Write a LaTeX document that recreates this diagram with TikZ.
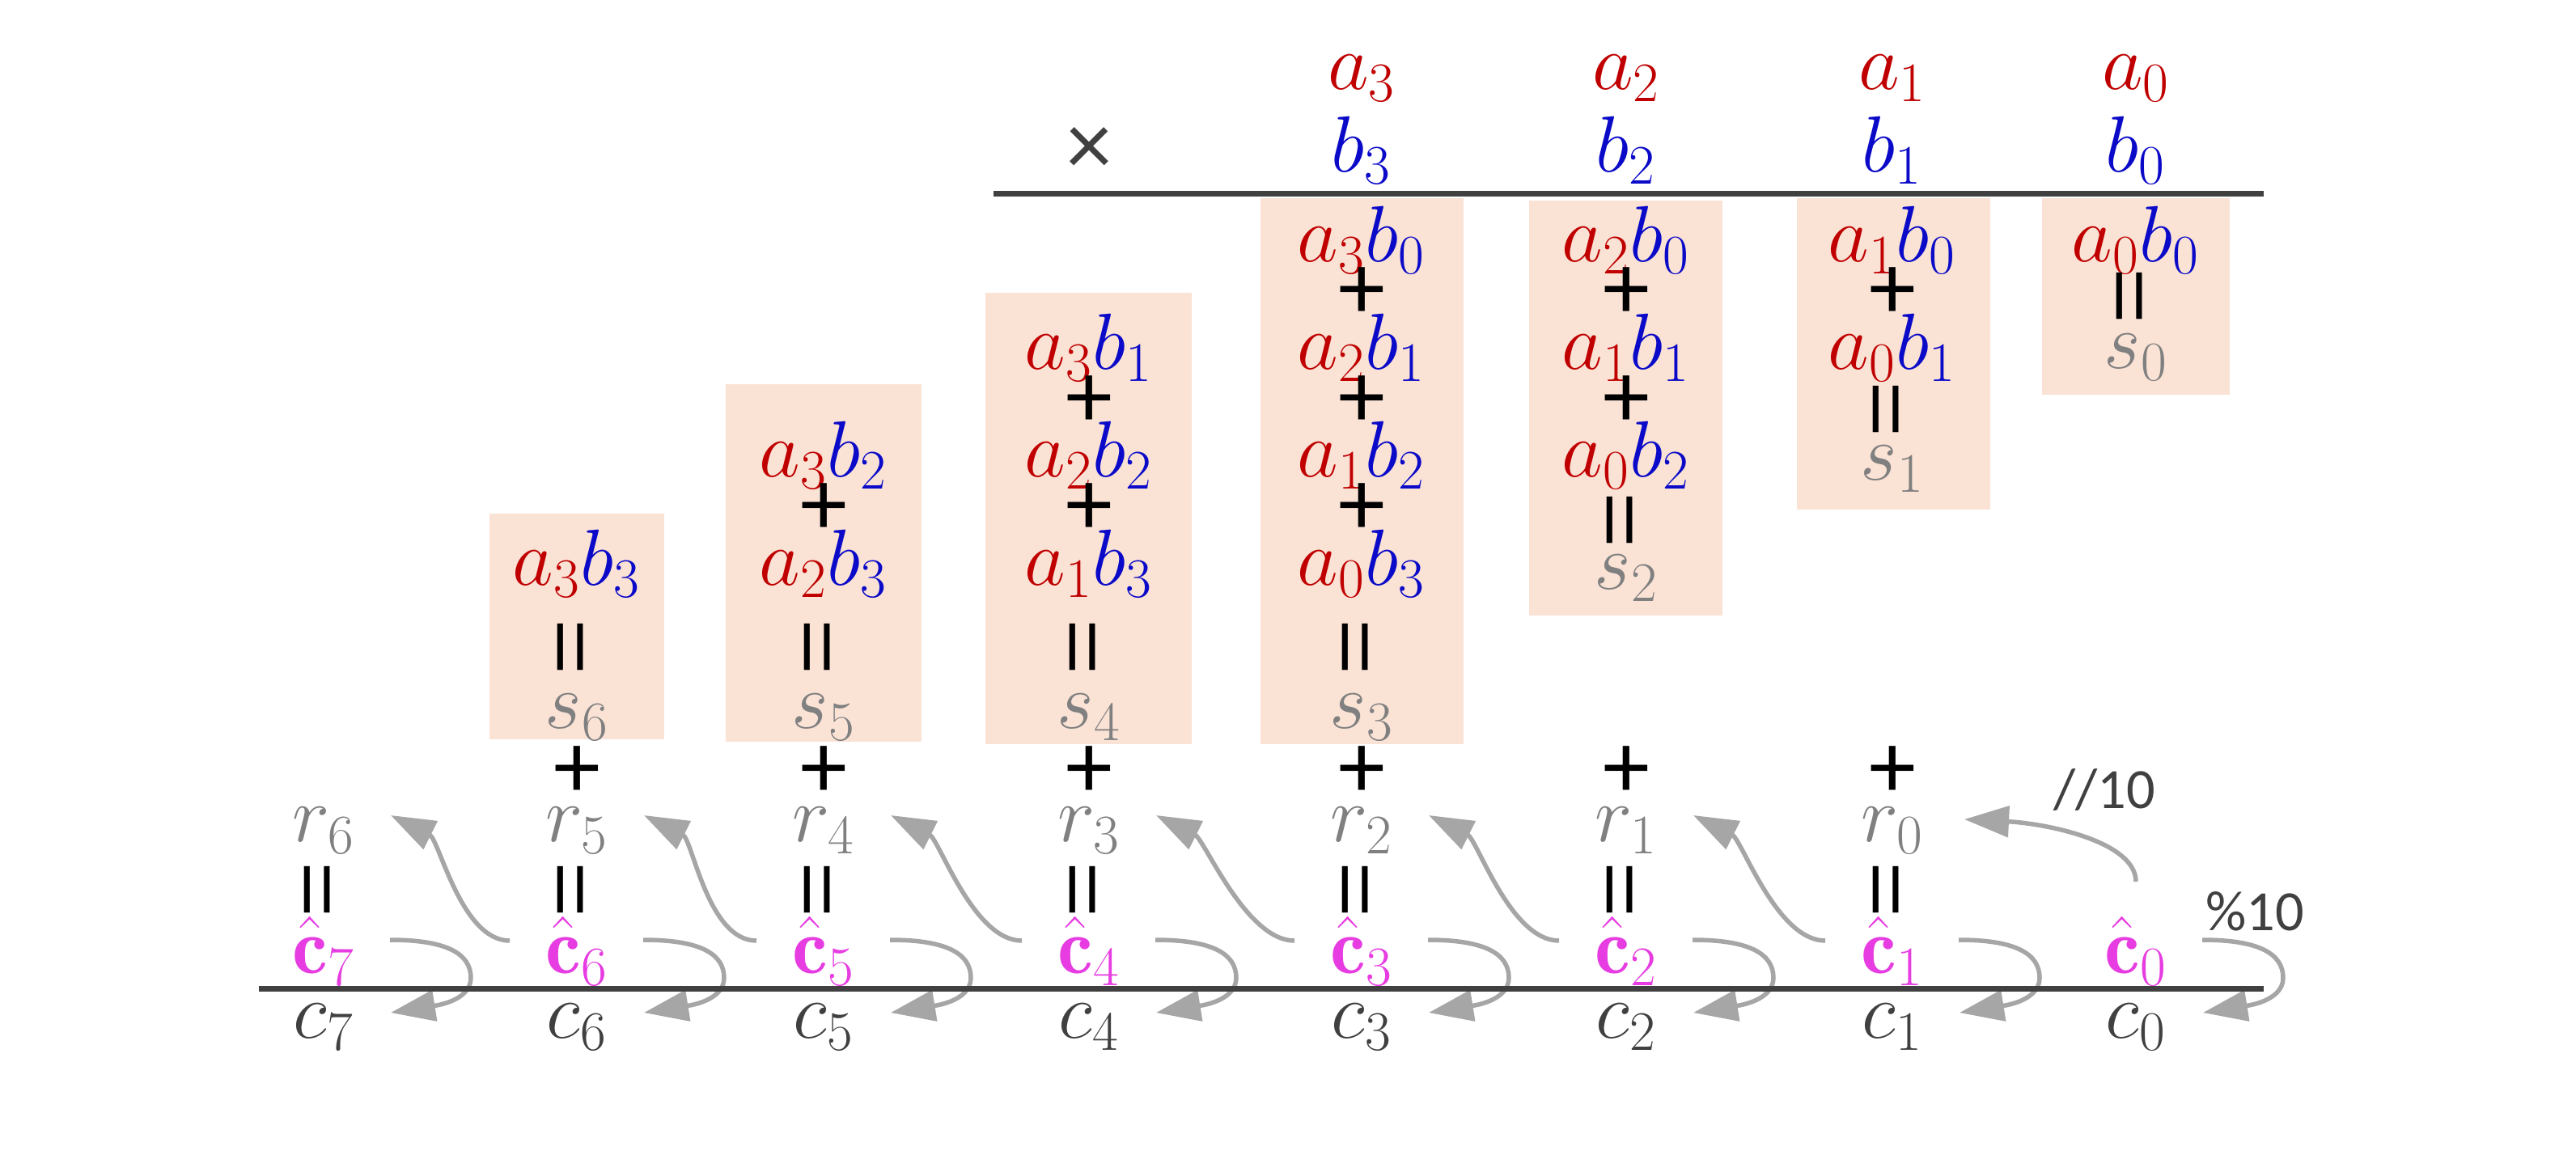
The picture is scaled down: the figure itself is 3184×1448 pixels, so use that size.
\documentclass[tikz,border=0pt]{standalone}
\usepackage{fix-cm}
\usepackage{fontspec}
\newfontfamily\carl{Carlito}
\newfontfamily\lsans{Liberation Sans}
\usetikzlibrary{arrows.meta,calc}
\definecolor{ared}{RGB}{192,0,0}
\definecolor{bblue}{RGB}{10,10,200}
\definecolor{sgray}{RGB}{128,128,128}
\definecolor{chat}{RGB}{230,60,225}
\definecolor{cdark}{RGB}{64,64,64}
\definecolor{boxc}{RGB}{250,226,213}
\definecolor{agray}{RGB}{166,166,166}
\definecolor{rulec}{RGB}{64,64,64}
\newcommand{\prodab}[2]{$\textcolor{ared}{a_{#1}}\textcolor{bblue}{b_{#2}}$}
\tikzset{
  mth/.style={font=\fontsize{28}{32}\selectfont, inner sep=0pt},
  plussym/.style={font=\carl\fontsize{33}{33}\selectfont, inner sep=0pt, text=black},
  eqsym/.style={font=\lsans\fontsize{28}{28}\selectfont, inner sep=0pt, text=black, rotate=90, xscale=1.2},
  lbl/.style={font=\carl\fontsize{20}{24}\selectfont, inner sep=0pt, text=cdark},
  garrow/.style={draw=agray, line width=0.055cm, -{Triangle[length=0.55cm,width=0.38cm]}},
  rulel/.style={draw=rulec, line width=0.07cm},
}
\begin{document}
\begin{tikzpicture}[x=0.01cm,y=-0.01cm]
\useasboundingbox[fill=white] (0,0) rectangle (3184,1448);
% boxes
\fill[boxc] (2524,245) rectangle (2756,488);
\fill[boxc] (2221,245) rectangle (2460,630);
\fill[boxc] (1890,248) rectangle (2129,761);
\fill[boxc] (1558,245) rectangle (1809,920);
\fill[boxc] (1218,362) rectangle (1473,920);
\fill[boxc] (897,475) rectangle (1139,917);
\fill[boxc] (605,635) rectangle (821,914);
% top operands
\foreach \k/\x in {3/1683,2/2010,1/2339,0/2640}{
  \node[mth,text=ared] (a\k) at (\x,97) {$a_{\k}$};
  \node[mth,text=bblue] (b\k) at (\x,186) {$b_{\k}$};
}
\node[font=\carl\fontsize{32}{32}\selectfont, inner sep=0pt, text=rulec] (times) at (1347,187) {×};
% column 0
\node[mth] (p00) at (2640,297) {\prodab00};
\node[eqsym] (e0) at (2640,366) {=};
\node[mth,text=sgray] (s0) at (2640,442) {$s_0$};
% column 1
\node[mth] (p10) at (2339,297) {\prodab10};
\node[plussym] (u1a) at (2339,363) {+};
\node[mth] (p01) at (2339,430) {\prodab01};
\node[eqsym] (e1) at (2339,506) {=};
\node[mth,text=sgray] (s1) at (2339,580) {$s_1$};
% column 2
\node[mth] (p20) at (2010,297) {\prodab20};
\node[plussym] (u2a) at (2010,363) {+};
\node[mth] (p11) at (2010,430) {\prodab11};
\node[plussym] (u2b) at (2010,497) {+};
\node[mth] (p02) at (2010,563) {\prodab02};
\node[eqsym] (e2) at (2010,643) {=};
\node[mth,text=sgray] (s2) at (2010,715) {$s_2$};
% column 3
\node[mth] (p30) at (1683,297) {\prodab30};
\node[plussym] (u3a) at (1683,363) {+};
\node[mth] (p21) at (1683,430) {\prodab21};
\node[plussym] (u3b) at (1683,497) {+};
\node[mth] (p12) at (1683,563) {\prodab12};
\node[plussym] (u3c) at (1683,630) {+};
\node[mth] (p03) at (1683,697) {\prodab03};
\node[eqsym] (e3) at (1683,800) {=};
\node[mth,text=sgray] (s3) at (1683,887) {$s_3$};
% column 4
\node[mth] (p31) at (1346,430) {\prodab31};
\node[plussym] (u4a) at (1346,497) {+};
\node[mth] (p22) at (1346,563) {\prodab22};
\node[plussym] (u4b) at (1346,630) {+};
\node[mth] (p13) at (1346,697) {\prodab13};
\node[eqsym] (e4) at (1346,800) {=};
\node[mth,text=sgray] (s4) at (1346,887) {$s_4$};
% column 5
\node[mth] (p32) at (1018,563) {\prodab32};
\node[plussym] (u5a) at (1018,630) {+};
\node[mth] (p23) at (1018,697) {\prodab23};
\node[eqsym] (e5) at (1018,800) {=};
\node[mth,text=sgray] (s5) at (1018,887) {$s_5$};
% column 6
\node[mth] (p33) at (713,697) {\prodab33};
\node[eqsym] (e6) at (713,800) {=};
\node[mth,text=sgray] (s6) at (713,887) {$s_6$};
% lower rows
\foreach \k/\x in {1/2339,2/2010,3/1683,4/1346,5/1018,6/713}
  \node[plussym] (pl\k) at (\x,955) {+};
\foreach \k/\x in {0/2339,1/2010,2/1683,3/1346,4/1018,5/713,6/400}
  \node[mth,text=sgray] (r\k) at (\x,1027) {$r_{\k}$};
\foreach \k/\x in {1/2339,2/2010,3/1683,4/1346,5/1018,6/713,7/400}
  \node[eqsym] (q\k) at (\x,1100) {=};
\foreach \k/\x in {0/2640,1/2339,2/2010,3/1683,4/1346,5/1018,6/713,7/400}{
  \node[mth,text=chat] (h\k) at (\x,1176) {$\hat{\mathbf{c}}_{\k}$};
  \node[mth,text=cdark] (c\k) at (\x,1270) {$c_{\k}$};
}
% arrows
\foreach \k in {0,...,7}
  \draw[garrow] ($(h\k)+(82,-14)$) .. controls +(70,0) and +(0,-30) .. ($(h\k)+(182,33)$) .. controls +(0,30) and +(50,-8) .. ($(c\k)+(83,-18)$);
\foreach \k in {1,...,6}
  \draw[garrow] ($(h\k)+(-83,-13)$) .. controls +(-60,0) and +(60,30) .. ($(r\k)+(83,-19)$);
\draw[garrow] ($(h0)+(0,-86)$) .. controls +(0,-50) and +(100,5) .. ($(r0)+(89,-14)$);
\node[lbl] (div) at (2601,977) {//10};
\node[lbl] (mod) at (2787,1127) {\%10};
% rules
\draw[rulel] (1228,239) -- (2798,239);
\draw[rulel] (320,1222) -- (2798,1222);
\end{tikzpicture}
\end{document}
